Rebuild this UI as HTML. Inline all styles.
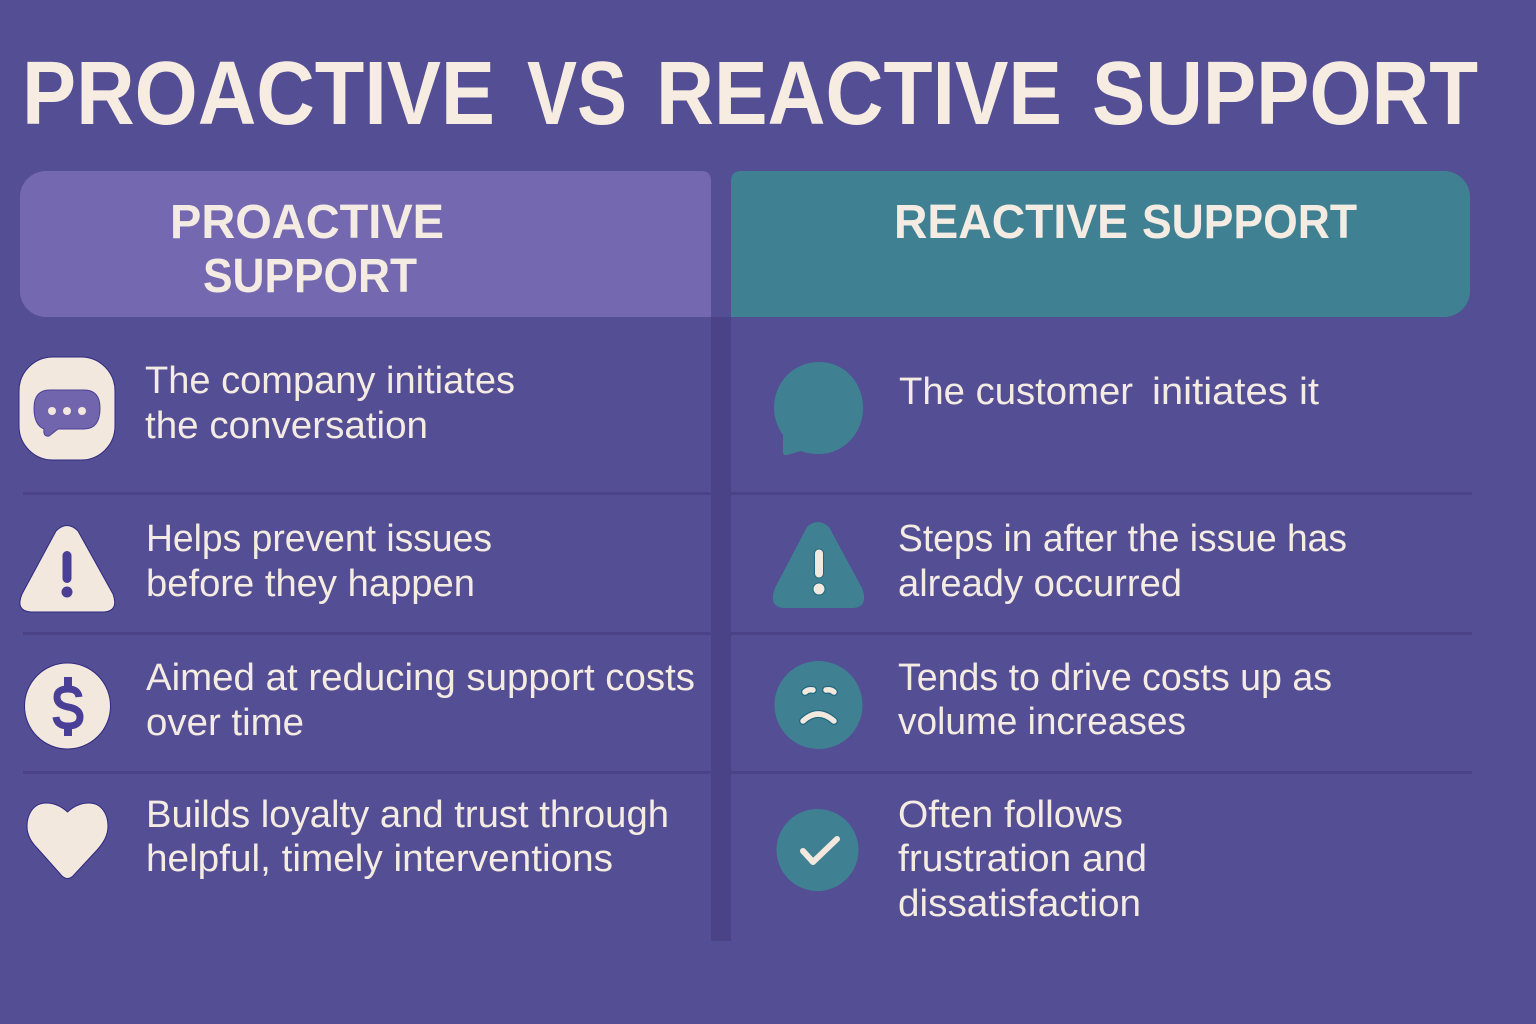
<!DOCTYPE html>
<html><head><meta charset="utf-8"><style>
html,body{margin:0;padding:0;background:#544e94}
svg{display:block}
text{font-family:"Liberation Sans","DejaVu Sans",sans-serif}
.t{fill:#f4ebe2;font-size:38px}
.h{fill:#f4ebe2;font-size:48px;font-weight:700}
.m{fill:#f6ece2;font-size:90px;font-weight:700}
</style></head><body>
<svg width="1536" height="1024" viewBox="0 0 1536 1024" xmlns="http://www.w3.org/2000/svg">
<rect width="1536" height="1024" fill="#544e94"/>
<text class="m" x="22" y="124" textLength="473" lengthAdjust="spacingAndGlyphs">PROACTIVE</text>
<text class="m" x="527" y="124" textLength="100" lengthAdjust="spacingAndGlyphs">VS</text>
<text class="m" x="656" y="124" textLength="406" lengthAdjust="spacingAndGlyphs">REACTIVE</text>
<text class="m" x="1092" y="124" textLength="386" lengthAdjust="spacingAndGlyphs">SUPPORT</text>
<rect x="711" y="317" width="20" height="624" fill="#4a4388"/>
<path d="M46 171H701Q711 171 711 181V317H46A26 26 0 0 1 20 291V197A26 26 0 0 1 46 171Z" fill="#7469b0"/>
<path d="M731 181Q731 171 741 171H1444A26 26 0 0 1 1470 197V291A26 26 0 0 1 1444 317H731Z" fill="#3f8192"/>
<text class="h" x="170" y="238" textLength="274" lengthAdjust="spacingAndGlyphs">PROACTIVE</text>
<text class="h" x="203" y="292" textLength="214" lengthAdjust="spacingAndGlyphs">SUPPORT</text>
<text class="h" x="894" y="238" textLength="234" lengthAdjust="spacingAndGlyphs">REACTIVE</text>
<text class="h" x="1142" y="238" textLength="215" lengthAdjust="spacingAndGlyphs">SUPPORT</text>
<g fill="#4a4388">
<rect x="23" y="492" width="688" height="3"/><rect x="731" y="492" width="741" height="3"/>
<rect x="23" y="632" width="688" height="3"/><rect x="731" y="632" width="741" height="3"/>
<rect x="23" y="771" width="688" height="3"/><rect x="731" y="771" width="741" height="3"/>
</g>
<text class="t" x="145" y="393" textLength="370" lengthAdjust="spacingAndGlyphs">The company initiates</text>
<text class="t" x="145" y="438" textLength="283" lengthAdjust="spacingAndGlyphs">the conversation</text>
<text class="t" x="146" y="551" textLength="346" lengthAdjust="spacingAndGlyphs">Helps prevent issues</text>
<text class="t" x="146" y="596" textLength="329" lengthAdjust="spacingAndGlyphs">before they happen</text>
<text class="t" x="146" y="690" textLength="549" lengthAdjust="spacingAndGlyphs">Aimed at reducing support costs</text>
<text class="t" x="146" y="735" textLength="158" lengthAdjust="spacingAndGlyphs">over time</text>
<text class="t" x="146" y="827" textLength="523" lengthAdjust="spacingAndGlyphs">Builds loyalty and trust through</text>
<text class="t" x="146" y="871" textLength="467" lengthAdjust="spacingAndGlyphs">helpful, timely interventions</text>
<text class="t" x="899" y="404" textLength="234" lengthAdjust="spacingAndGlyphs">The customer</text>
<text class="t" x="1152" y="404" textLength="167" lengthAdjust="spacingAndGlyphs">initiates it</text>
<text class="t" x="898" y="551" textLength="449" lengthAdjust="spacingAndGlyphs">Steps in after the issue has</text>
<text class="t" x="898" y="596" textLength="284" lengthAdjust="spacingAndGlyphs">already occurred</text>
<text class="t" x="898" y="690" textLength="434" lengthAdjust="spacingAndGlyphs">Tends to drive costs up as</text>
<text class="t" x="898" y="734" textLength="288" lengthAdjust="spacingAndGlyphs">volume increases</text>
<text class="t" x="898" y="827" textLength="225" lengthAdjust="spacingAndGlyphs">Often follows</text>
<text class="t" x="898" y="871" textLength="249" lengthAdjust="spacingAndGlyphs">frustration and</text>
<text class="t" x="898" y="916" textLength="243" lengthAdjust="spacingAndGlyphs">dissatisfaction</text>
<!-- left icons -->
<rect x="19" y="357" width="96" height="103" rx="34" fill="#f3e8de" stroke="#2f2a80" stroke-width="1"/>
<path d="M50 390H84Q100 390 100 408Q100 429 84 429H58L49 436Q43 437 44 429Q34 425 34 408Q34 390 50 390Z" fill="#7166ae" stroke="#4a3f96" stroke-width="1"/>
<g fill="#f3e8de"><circle cx="52" cy="411" r="4"/><circle cx="67" cy="411" r="4"/><circle cx="82" cy="411" r="4"/></g>
<path d="M56 531Q67 520 78 531L113 594Q119 611 104 612H31Q15 611 22 594Z" fill="#f3e8de" stroke="#2f2a80" stroke-width="1"/>
<rect x="62.500" y="551" width="9" height="32" rx="4.500" fill="#4a3f96"/><circle cx="67" cy="592" r="5.500" fill="#4a3f96"/>
<circle cx="67.500" cy="706" r="43" fill="#f3e8de" stroke="#2f2a80" stroke-width="1"/>
<path d="M79 697Q78 689 68 689Q57 689 57 697Q57 705 68 707Q80 709 80 717Q80 726 68 726Q57 726 56 717" fill="none" stroke="#4a3f96" stroke-width="7"/>
<rect x="64" y="677" width="8" height="11" fill="#4a3f96"/><rect x="64" y="727" width="8" height="9" fill="#4a3f96"/>
<path d="M67.500 812C60 805 52 803 46 803C33 803 27 815 27 826C27 836 32 843 38 849L62 876Q67.500 881 73 876L98 849C103 843 108 836 108 826C108 815 102 803 89 803C83 803 75 805 67.500 812Z" fill="#f3e8de" stroke="#2f2a80" stroke-width="1"/>
<!-- right icons -->
<path d="M819 362C846 362 863 384 863 408C863 434 843 454 819 454C812 454 806 453 801 451L787 455Q782 456 783 450L783 435C778 428 774 418 774 408C774 384 792 362 819 362Z" fill="#3f8192"/>
<path d="M807 527Q818 517 829 527L862 588Q869 607 853 608H784Q768 607 775 588Z" fill="#3f8192"/>
<rect x="814.500" y="549" width="9" height="29" rx="4.500" fill="#f3e8de" stroke="#1f6780"/><circle cx="819" cy="589" r="6" fill="#f3e8de" stroke="#1f6780"/>
<circle cx="818.500" cy="705" r="44" fill="#3f8192"/>
<g fill="none" stroke-linecap="round" stroke="#1f6780" stroke-width="8">
<path d="M805 692Q808 689 813 690"/><path d="M826 690Q831 689 834 692"/><path d="M803 721Q818 707 834 721"/>
</g>
<g fill="none" stroke-linecap="round" stroke="#f3e8de" stroke-width="5.500">
<path d="M805 692Q808 689 813 690"/><path d="M826 690Q831 689 834 692"/><path d="M803 721Q818 707 834 721"/>
</g>
<circle cx="817.500" cy="850" r="41" fill="#3f8192"/>
<path d="M803 851L813 862L837 839" fill="none" stroke="#f3e8de" stroke-width="6" stroke-linecap="round" stroke-linejoin="round"/>
</svg>
</body></html>
